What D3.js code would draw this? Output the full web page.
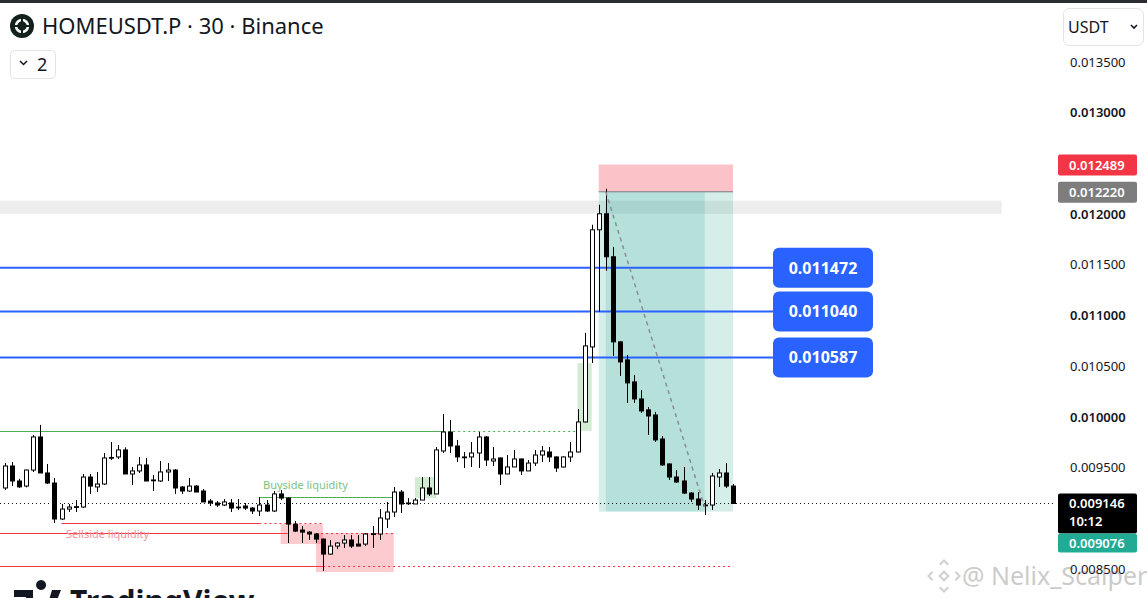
<!DOCTYPE html>
<html>
<head>
<meta charset="utf-8">
<script src="https://cdn.jsdelivr.net/npm/d3@7"></script>
<style>
  html, body { margin: 0; padding: 0; background: #fff; }
  svg { display: block; font-family: "Noto Sans", "Open Sans", sans-serif; }
</style>
</head>
<body>
<div id="chart"></div>
<script>
var W = 1147, H = 598;

// candle prices, in millionths of USDT (0.009299 -> 9299)
var opens = [9299,9516,9368,9318,9476,9802,9447,9348,8993,9091,
  9111,9111,9407,9309,9338,9595,9605,9674,9437,9467,
  9526,9378,9368,9457,9476,9309,9269,9318,9269,9170,
  9151,9131,9151,9111,9121,9101,9072,9131,9072,9240,
  9200,8943,8884,8864,8845,8795,8647,8726,8756,8786,
  8746,8746,8845,8845,8993,9062,9259,9151,9141,9180,
  9299,9240,9664,9851,9713,9605,9605,9644,9802,9565,
  9595,9437,9506,9585,9467,9545,9624,9654,9605,9506,
  9605,9654,9950,10690,11845,12003,11579,10740,10562,10345,
  10177,10069,10019,9782,9536,9407,9368,9249,9190,9131,
  9131,9407,9447,9318];
var highs = [9545,9555,9390,9480,9822,9921,9536,9397,9141,9141,
  9180,9437,9437,9457,9644,9753,9723,9700,9506,9605,
  9595,9427,9565,9545,9486,9318,9397,9328,9289,9190,
  9170,9190,9190,9190,9151,9111,9210,9180,9269,9279,
  9210,8973,8924,8874,8855,8800,8786,8766,8835,8835,
  8835,8855,8924,9091,9161,9309,9279,9200,9200,9407,
  9407,9703,10029,9970,9773,9654,9753,9851,9812,9703,
  9600,9624,9674,9590,9575,9674,9713,9703,9610,9610,
  9753,10078,10829,11895,12092,12250,11677,10745,10611,10414,
  10266,10098,10049,9812,9540,9476,9506,9259,9259,9180,
  9447,9486,9545,9338];
var lows = [9279,9318,9300,9305,9457,9447,9338,8953,8983,9062,
  9062,9101,9240,9259,9328,9575,9585,9437,9328,9447,
  9368,9269,9358,9368,9240,9240,9260,9259,9161,9121,
  9111,9121,9062,9082,9082,9042,9022,9062,9062,9180,
  8756,8864,8756,8786,8756,8480,8640,8697,8707,8707,
  8726,8726,8707,8786,8904,9013,9052,9131,9141,9180,
  9220,9240,9644,9644,9555,9496,9506,9496,9516,9516,
  9328,9437,9506,9427,9467,9516,9555,9555,9457,9500,
  9555,9650,9945,10532,11036,11441,10602,10404,10138,10138,
  10039,9822,9753,9516,9378,9348,9240,9161,9082,9032,
  9082,9309,9299,9146];
var closes = [9516,9368,9310,9476,9802,9447,9348,8993,9091,9111,
  9115,9407,9318,9338,9595,9600,9674,9437,9467,9526,
  9368,9372,9457,9476,9299,9269,9318,9259,9161,9151,
  9131,9161,9101,9108,9101,9072,9131,9072,9240,9200,
  8943,8874,8864,8845,8795,8647,8726,8756,8786,8726,
  8726,8845,8848,9003,9062,9259,9141,9148,9180,9299,
  9240,9674,9851,9713,9605,9600,9644,9802,9575,9585,
  9437,9506,9585,9467,9545,9624,9664,9605,9496,9605,
  9654,9950,10700,11845,12003,11579,10740,10542,10335,10177,
  10059,10009,9773,9526,9407,9358,9249,9190,9131,9128,
  9417,9447,9318,9146];

var axisTicks = [0.0085, 0.0095, 0.0100, 0.0105, 0.0110, 0.0115, 0.0120, 0.0130, 0.0135];
var boldTicks = [0.0100, 0.0110, 0.0120, 0.0130];
var blueLevels = [0.011472, 0.011040, 0.010587];

var entryPrice = 0.012220, stopPrice = 0.012489, targetPrice = 0.009076;
var lastPrice = 0.009146, countdown = "10:12";
var grayBand = [0.012003, 0.012132];

// [price, startIndex, solidEndIndex, dottedEndIndex]
var greenLevel = [0.009862, -1, 62, 81];
var buysideLevel = [0.009210, 36, 55, 55];
var sellsideLevels = [
  [0.008953, 8, 36, 45],
  [0.008855, -1, 40, 40],
  [0.008530, -1, 45, 103]
];
// [startIndex, endIndex, top, bottom]
var greenZones = [[58, 61, 0.009407, 0.009200], [81, 83, 0.010530, 0.009862]];
var redZones = [[39, 45, 0.008943, 0.008746], [44, 55, 0.008855, 0.008470]];

var toPrice = function(v){ return v / 1e6; };
var candles = opens.map(function(o, i){
  return {i: i, o: toPrice(o), h: toPrice(highs[i]), l: toPrice(lows[i]), c: toPrice(closes[i])};
});

var x = d3.scaleLinear().domain([0, candles.length - 1]).range([5, 733]);
var y = d3.scaleLinear().domain([0.0085, 0.0135]).range([569, 62]);

var svg = d3.select("#chart").append("svg")
  .attr("width", W).attr("height", H);

// top border
svg.append("rect").attr("x", 0).attr("y", 0).attr("width", W).attr("height", 3).attr("fill", "#2a2e33");

// gray band
svg.append("rect")
  .attr("x", 0).attr("width", x(141))
  .attr("y", y(grayBand[1])).attr("height", y(grayBand[0]) - y(grayBand[1]))
  .attr("fill", "#ededed");

// zones
svg.selectAll("rect.gz").data(greenZones).enter().append("rect")
  .attr("x", function(d){ return x(d[0]); })
  .attr("width", function(d){ return x(d[1]) - x(d[0]); })
  .attr("y", function(d){ return y(d[2]); })
  .attr("height", function(d){ return y(d[3]) - y(d[2]); })
  .attr("fill", "rgba(76,175,80,0.25)");
svg.selectAll("rect.rz").data(redZones).enter().append("rect")
  .attr("x", function(d){ return x(d[0]); })
  .attr("width", function(d){ return x(d[1]) - x(d[0]); })
  .attr("y", function(d){ return y(d[2]); })
  .attr("height", function(d){ return y(d[3]) - y(d[2]); })
  .attr("fill", "rgba(242,54,69,0.26)");

// short position tool
var pL = x(84), pR = x(103), dL = x(85), dR = x(99);
svg.append("rect").attr("x", pL).attr("width", pR - pL)
  .attr("y", y(stopPrice)).attr("height", y(entryPrice) - y(stopPrice))
  .attr("fill", "rgba(242,54,69,0.3)");
svg.append("rect").attr("x", pL).attr("width", pR - pL)
  .attr("y", y(entryPrice)).attr("height", y(targetPrice) - y(entryPrice) + 1)
  .attr("fill", "rgba(8,153,129,0.17)");
svg.append("rect").attr("x", dL).attr("width", dR - dL)
  .attr("y", y(entryPrice)).attr("height", y(targetPrice) - y(entryPrice) + 1)
  .attr("fill", "rgba(8,153,129,0.15)");
svg.append("line").attr("x1", pL).attr("x2", pR)
  .attr("y1", y(entryPrice)).attr("y2", y(entryPrice))
  .attr("stroke", "#787b86").attr("stroke-width", 1);

// level lines
function levelLine(lv, color){
  var yy = Math.round(y(lv[0])) + 0.5;
  svg.append("line").attr("x1", x(lv[1])).attr("x2", x(lv[2]))
    .attr("y1", yy).attr("y2", yy).attr("stroke", color).attr("stroke-width", 1);
  if (lv[3] > lv[2]) {
    svg.append("line").attr("x1", x(lv[2])).attr("x2", x(lv[3]))
      .attr("y1", yy).attr("y2", yy).attr("stroke", color).attr("stroke-width", 1)
      .attr("stroke-dasharray", "2,3");
  }
}
levelLine(greenLevel, "#4caf50");
levelLine(buysideLevel, "#4caf50");
sellsideLevels.forEach(function(lv){ levelLine(lv, "#f23645"); });
// dotted top of the second red zone
svg.append("line").attr("x1", x(44)).attr("x2", x(55))
  .attr("y1", Math.round(y(0.008855)) + 0.5).attr("y2", Math.round(y(0.008855)) + 0.5)
  .attr("stroke", "#f23645").attr("stroke-dasharray", "2,3");

svg.append("text").attr("x", 263).attr("y", y(buysideLevel[0]) - 8)
  .attr("font-size", 11).attr("fill", "#7cc47f").text("Buyside liquidity");
svg.append("text").attr("x", 66).attr("y", y(0.008855) + 5)
  .attr("font-size", 11).attr("fill", "#f4939b").text("Sellside liquidity");

// blue levels
svg.selectAll("line.blue").data(blueLevels).enter().append("line")
  .attr("x1", 0).attr("x2", 775)
  .attr("y1", function(d){ return y(d); }).attr("y2", function(d){ return y(d); })
  .attr("stroke", "#2962ff").attr("stroke-width", 2);

// current price dotted line
svg.append("line").attr("x1", 0).attr("x2", 1056)
  .attr("y1", Math.round(y(lastPrice)) + 0.5).attr("y2", Math.round(y(lastPrice)) + 0.5)
  .attr("stroke", "#131722").attr("stroke-width", 1).attr("stroke-dasharray", "1,3");

// candles
var cw = 5;
var g = svg.append("g");
g.selectAll("line.wick").data(candles).enter().append("line")
  .attr("x1", function(d){ return Math.round(x(d.i)) + 0.5; })
  .attr("x2", function(d){ return Math.round(x(d.i)) + 0.5; })
  .attr("y1", function(d){ return y(d.h); })
  .attr("y2", function(d){ return y(d.l); })
  .attr("stroke", "#000").attr("stroke-width", 1);
g.selectAll("rect.body").data(candles).enter().append("rect")
  .attr("x", function(d){ return Math.round(x(d.i)) - 1.5; })
  .attr("width", cw - 1)
  .attr("y", function(d){ return y(Math.max(d.o, d.c)); })
  .attr("height", function(d){ return Math.max(0.8, Math.abs(y(d.o) - y(d.c))); })
  .attr("fill", function(d){ return d.c >= d.o ? "#fff" : "#000"; })
  .attr("stroke", "#000").attr("stroke-width", 1);

// dashed path of the trade
svg.append("line").attr("x1", dL).attr("y1", y(entryPrice))
  .attr("x2", dR).attr("y2", y(closes[99] / 1e6) + 2)
  .attr("stroke", "#8a8d96").attr("stroke-width", 1.5).attr("stroke-dasharray", "4,4");

// blue level labels
var bl = svg.selectAll("g.bl").data(blueLevels).enter().append("g")
  .attr("transform", function(d){ return "translate(773," + y(d) + ")"; });
bl.append("rect").attr("x", 0).attr("y", -20).attr("width", 100).attr("height", 40)
  .attr("rx", 6).attr("fill", "#2962ff");
bl.append("text").attr("x", 50).attr("y", 6).attr("text-anchor", "middle")
  .attr("font-size", 16).attr("font-weight", "bold").attr("fill", "#fff")
  .text(function(d){ return d3.format(".6f")(d); });

// price axis
var axis = d3.axisRight(y).tickValues(axisTicks).tickSize(0).tickPadding(0).tickFormat(d3.format(".6f"));
var ax = svg.append("g").attr("transform", "translate(1070,0)").call(axis);
ax.select(".domain").remove();
ax.selectAll("text")
  .attr("font-family", "\"Noto Sans\", sans-serif")
  .attr("font-size", 13).attr("fill", "#131722")
  .attr("font-weight", function(d){ return boldTicks.indexOf(d) >= 0 ? "600" : "400"; });

function priceTag(yc, h, color, lines){
  svg.append("rect").attr("x", 1058).attr("y", yc).attr("width", 79).attr("height", h)
    .attr("rx", 2).attr("fill", color);
  lines.forEach(function(t, k){
    svg.append("text").attr("x", 1069).attr("y", yc + 15 + k * 18)
      .attr("font-size", 13).attr("font-weight", "600").attr("fill", "#fff").text(t);
  });
}
priceTag(y(stopPrice) - 10, 21, "#f23645", [d3.format(".6f")(stopPrice)]);
priceTag(y(entryPrice) - 10, 21, "#7d7d7d", [d3.format(".6f")(entryPrice)]);
priceTag(y(lastPrice) - 10, 40, "#000", [d3.format(".6f")(lastPrice), countdown]);
priceTag(y(lastPrice) + 30, 19, "#22ab94", [d3.format(".6f")(targetPrice)]);

// header
var logo = svg.append("g").attr("transform", "translate(22,26)");
logo.append("circle").attr("r", 12).attr("fill", "#13201c");
logo.append("circle").attr("r", 6).attr("fill", "none").attr("stroke", "#fff").attr("stroke-width", 2.5);
logo.append("path").attr("d", "M-9,0H-4M4,0H9M0,-9V-4M0,4V9").attr("stroke", "#13201c").attr("stroke-width", 2);
logo.append("circle").attr("r", 2).attr("fill", "#13201c");
svg.append("text").attr("x", 42).attr("y", 34).attr("font-size", 22).attr("fill", "#131722")
  .text("HOMEUSDT.P \u00b7 30 \u00b7 Binance");

svg.append("rect").attr("x", 10.5).attr("y", 50.5).attr("width", 45).attr("height", 28).attr("rx", 4)
  .attr("fill", "#fff").attr("stroke", "#e0e3eb");
svg.append("path").attr("d", "M20,61l3.5,3.5l3.5,-3.5").attr("fill", "none").attr("stroke", "#131722").attr("stroke-width", 1.5);
svg.append("text").attr("x", 37).attr("y", 71).attr("font-size", 18).attr("fill", "#131722").text("2");

svg.append("rect").attr("x", 1063.5).attr("y", 8.5).attr("width", 80).attr("height", 37).attr("rx", 6)
  .attr("fill", "#fff").attr("stroke", "#e0e3eb");
svg.append("text").attr("x", 1068).attr("y", 33).attr("font-size", 16).attr("fill", "#131722").text("USDT");
svg.append("path").attr("d", "M1131,25l3,3l3,-3").attr("fill", "none").attr("stroke", "#131722").attr("stroke-width", 1.6);

// watermark
var wm = svg.append("g").attr("opacity", 0.3);
var dg = wm.append("g").attr("transform", "translate(944,576) rotate(45)").attr("fill", "none").attr("stroke", "#666").attr("stroke-width", 2);
dg.append("rect").attr("x", -3).attr("y", -3).attr("width", 6).attr("height", 6);
dg.append("path").attr("d", "M-11,-5V-11H-5M5,-11H11V-5M11,5V11H5M-5,11H-11V5");
wm.append("text").attr("x", 962).attr("y", 585).attr("font-size", 25).attr("fill", "#555")
  .text("@ Nelix_Scalper");

// TradingView logo (cut off at the bottom)
svg.append("path").attr("d", "M14,590H33V610H26V597H14Z M41,590a5,5 0 1,1 0.1,0Z M52,590H61L53,610H46Z").attr("fill", "#131722");
svg.append("text").attr("x", 70).attr("y", 612).attr("font-size", 30).attr("font-weight", "bold")
  .attr("fill", "#131722").text("TradingView");
</script>
</body>
</html>
